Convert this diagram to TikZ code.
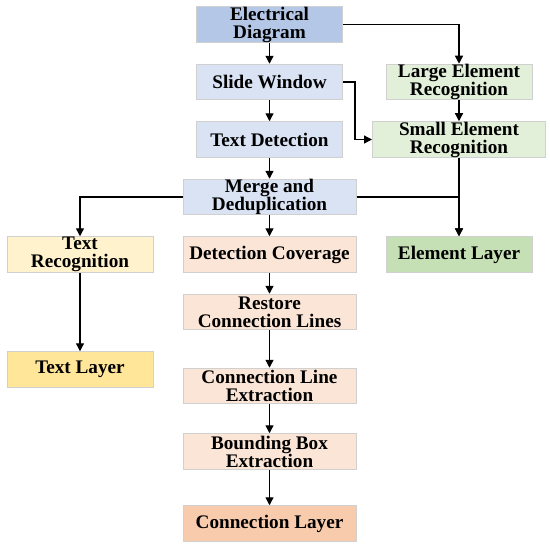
\documentclass[tikz,border=0pt]{standalone}
\usepackage{fontspec}
\setmainfont{Liberation Serif}
\usetikzlibrary{arrows.meta}
\definecolor{diagblue}{HTML}{B4C7E7}
\definecolor{stepblue}{HTML}{DAE3F3}
\definecolor{stepgreen}{HTML}{E2F0D9}
\definecolor{layergreen}{HTML}{C5E0B4}
\definecolor{stepyellow}{HTML}{FFF2CC}
\definecolor{layeryellow}{HTML}{FFE699}
\definecolor{steporange}{HTML}{FBE5D6}
\definecolor{layerorange}{HTML}{F8CBAD}
\definecolor{edgegray}{HTML}{D0D0D0}
\tikzstyle{narrow} = [
    rectangle,
    minimum width = 73pt,
    minimum height = 17.75pt,
    inner sep = 0pt,
    text centered,
    align = center,
    draw = edgegray,
    line width = 0.5pt,
    font = \fontsize{9.6}{9}\selectfont\bfseries,
]
\tikzstyle{wide} = [narrow, minimum width = 86.5pt]
\tikzstyle{fleche} = [-{Triangle[length=4pt, width=4pt]}, line width = 0.65pt]
\begin{document}
\begin{tikzpicture} [x = 0.5pt, y = -0.5pt]
    \useasboundingbox (0,0) rectangle (550,547);

    \node (diagram) [narrow, fill = diagblue] at (269.5,24.5) {Electrical\\Diagram};
    \node (slide) [narrow, fill = stepblue] at (269.5,82) {Slide Window};
    \node (textdet) [narrow, fill = stepblue] at (269.5,139.5) {Text Detection};
    \node (merge) [wide, fill = stepblue] at (269.5,197) {Merge and\\Deduplication};

    \node (large) [narrow, fill = stepgreen] at (459,82) {Large Element\\Recognition};
    \node (small) [wide, fill = stepgreen] at (459,139.5) {Small Element\\Recognition};
    \node (elemlayer) [narrow, fill = layergreen] at (459,254.5) {Element Layer};

    \node (textrec) [narrow, fill = stepyellow] at (80,254.5) {Text\\Recognition};
    \node (textlayer) [narrow, fill = layeryellow] at (80,369.5) {Text Layer};

    \node (coverage) [wide, fill = steporange] at (269.5,254.5) {Detection Coverage};
    \node (restore) [wide, fill = steporange] at (269.5,312) {Restore\\Connection Lines};
    \node (lineext) [wide, fill = steporange] at (269.5,386) {Connection Line\\Extraction};
    \node (bboxext) [wide, fill = steporange] at (269.5,451.5) {Bounding Box\\Extraction};
    \node (connlayer) [wide, fill = layerorange] at (269.5,523.5) {Connection Layer};

    \draw[fleche] (diagram) -- (slide);
    \draw[fleche] (slide) -- (textdet);
    \draw[fleche] (textdet) -- (merge);
    \draw[fleche] (diagram.east) -| (large.north);
    \draw[fleche] (large) -- (small);
    \draw[fleche] (slide.east) -- ++(12,0) |- (small.west);
    \draw[fleche] (small) -- (elemlayer);
    \draw[fleche] (merge.east) -| (elemlayer.north);
    \draw[fleche] (merge.west) -| (textrec.north);
    \draw[fleche] (textrec) -- (textlayer);
    \draw[fleche] (merge) -- (coverage);
    \draw[fleche] (coverage) -- (restore);
    \draw[fleche] (restore) -- (lineext);
    \draw[fleche] (lineext) -- (bboxext);
    \draw[fleche] (bboxext) -- (connlayer);
\end{tikzpicture}
\end{document}
